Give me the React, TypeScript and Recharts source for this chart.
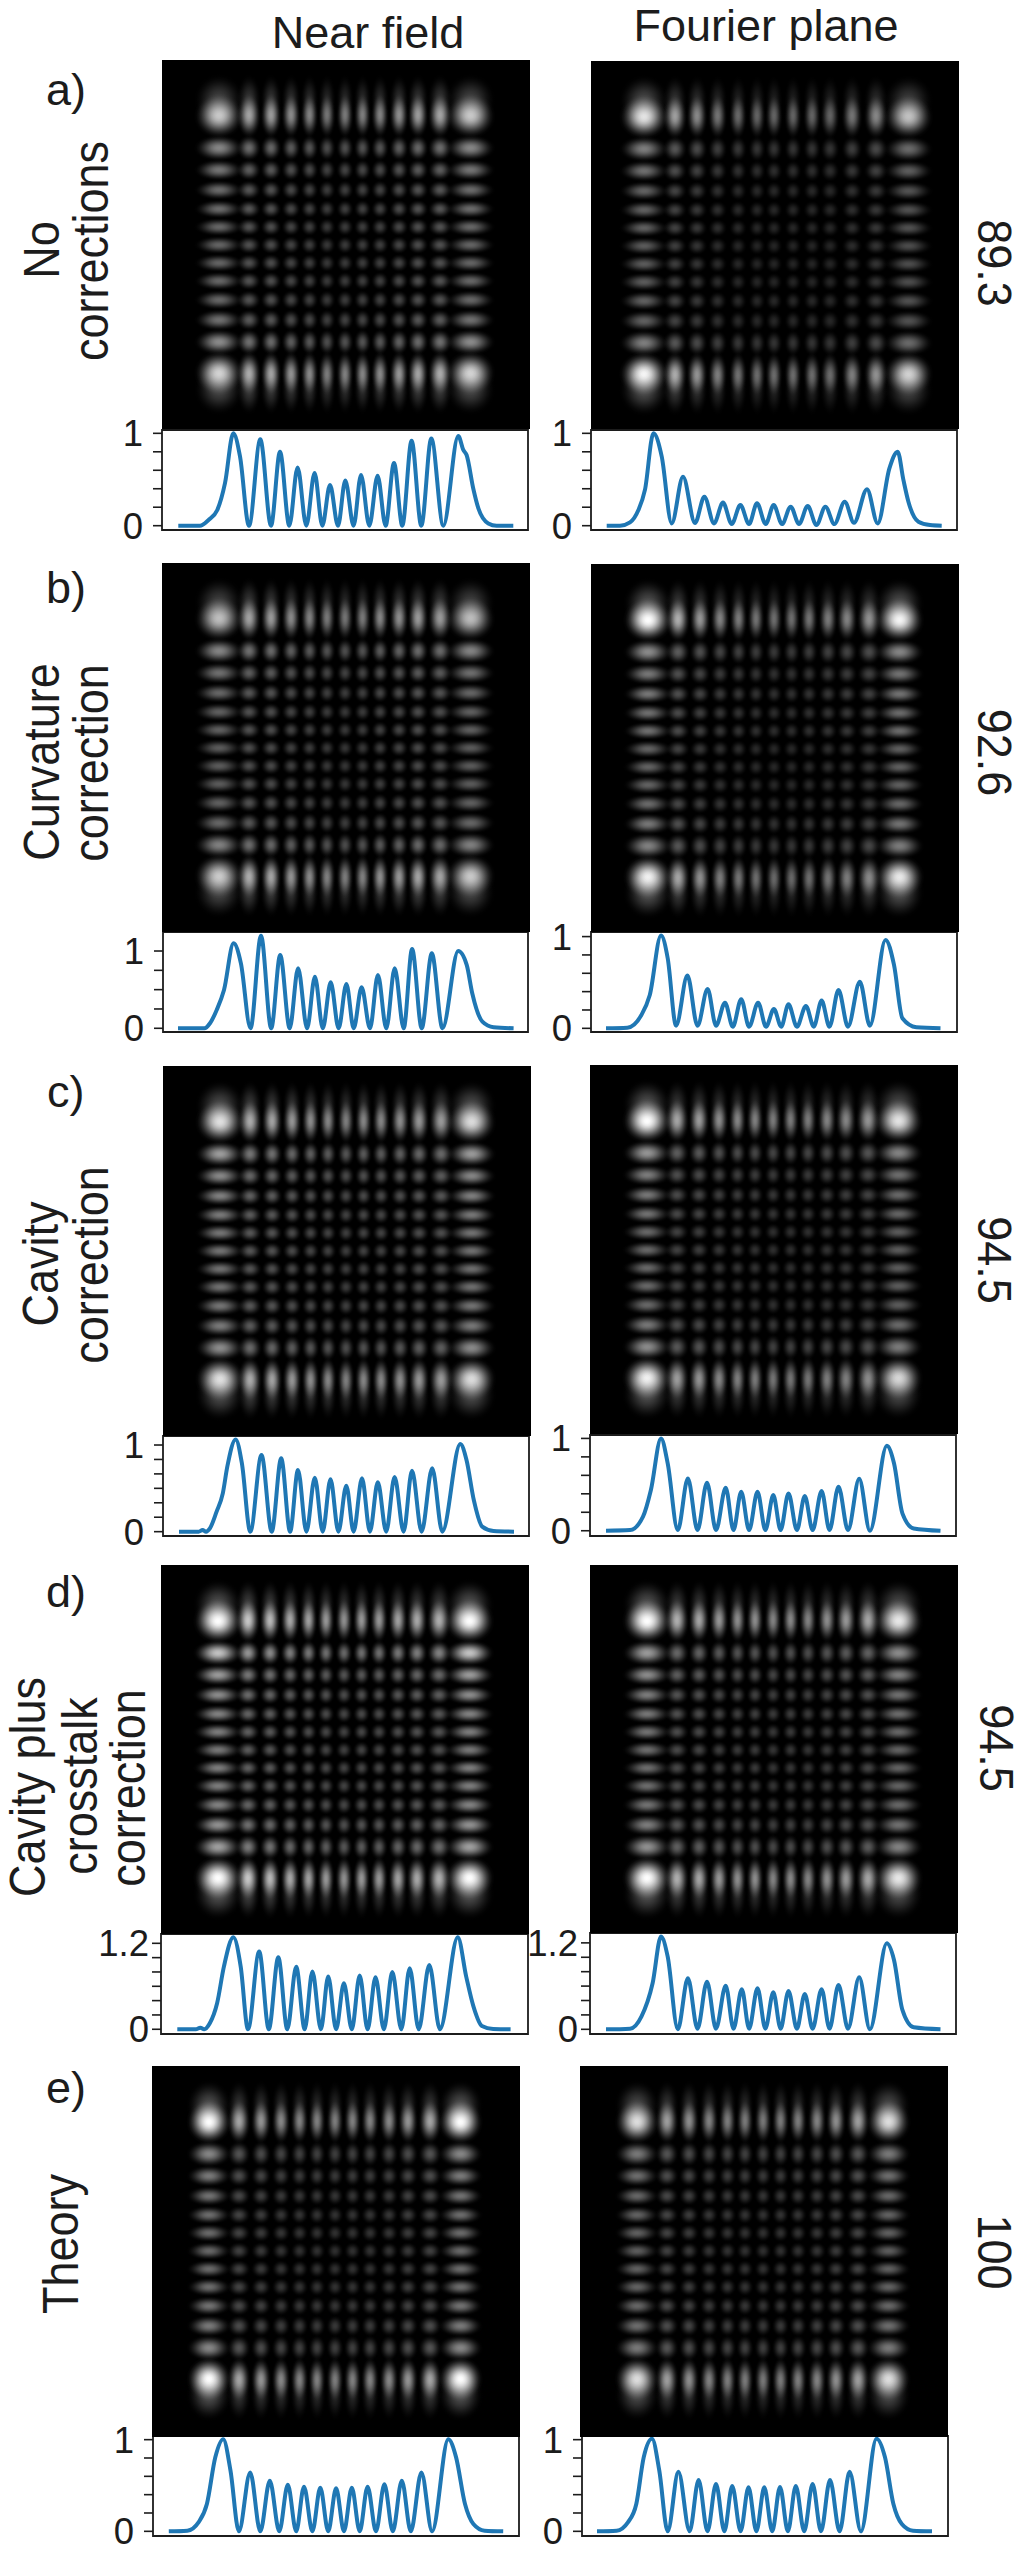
import React from "react";
import { LineChart, Line, XAxis, YAxis, ReferenceArea, ScatterChart, Scatter } from "recharts";

const FONT = "'Liberation Sans', Arial, sans-serif";
const BLUE = "#1f77b4";
const INK = "#1c1c1c";

// Cross-section curves: [sample position, normalised intensity]
const curveANear = [[0,0],[21.7,0],[30,.06],[39,.17],[46.7,.46],[55,1],[61.7,.75],[70.7,0],[82,.935],[92.7,0],[101.7,.8],[111,0],[119.3,.63],[128,0],[136.3,.57],[144,0],[151.7,.44],[159.7,0],[167,.49],[175.3,0],[182.7,.55],[191,0],[199.3,.54],[207.3,0],[215.7,.68],[224,0],[233.3,.92],[243,0],[253,.945],[265,0],[280,.97],[285,.82],[288.3,.765],[295,.4],[300,.19],[310,.025],[318.3,0],[335,0]];
const curveAFourier = [[0,0],[13.3,0],[23.3,.036],[31.7,.17],[38.3,.39],[46.7,1],[55,.75],[65,.025],[76.3,.53],[88.3,.03],[97.7,.314],[107.3,.025],[116.3,.25],[125,.018],[133.7,.224],[142.3,.018],[150.3,.242],[159,.018],[167,.224],[175.3,.018],[184,.206],[192.3,.018],[201,.213],[209.7,.007],[218.7,.206],[227.7,.018],[238,.26],[247.3,.032],[260.3,.394],[271,.025],[282.7,.62],[291,.8],[296.7,.496],[301.7,.26],[311.7,.043],[323.3,.007],[335,0]];
const curveBNear = [[0,0],[26.4,0],[32,.065],[38.7,.237],[46,.496],[55.6,1.1],[62.9,.84],[72.5,0],[83,1.198],[93.2,0],[102.2,.948],[111.7,0],[120.1,.776],[129.1,0],[136.9,.668],[144.8,0],[152.7,.595],[160.6,0],[168.4,.573],[175.7,0],[183.6,.53],[192,0],[199.9,.69],[208.3,0],[216.7,.776],[225.7,0],[234.1,1.026],[243.7,0],[253.8,.97],[264.5,0],[280.2,1],[288.7,.82],[294.3,.45],[304.4,.086],[315.6,.013],[335.6,0]];
const curveBFourier = [[0,0],[21.3,.007],[35.4,.145],[43.8,.364],[55,1.011],[61.7,.764],[70.1,.029],[81.4,.575],[91.5,.029],[101.6,.429],[110,.029],[119,.28],[126.8,.018],[135.2,.316],[143.1,.018],[152.1,.28],[160,.018],[167.9,.211],[175.2,.018],[182.5,.262],[190.9,.018],[199.9,.244],[207.8,.018],[215.6,.302],[223.5,.018],[232.5,.418],[242,.018],[253.8,.509],[263.9,.029],[279.5,.964],[288,.691],[296.4,.109],[310.4,.011],[334.5,0]];
const curveCNear = [[0,0],[19.6,0],[23.6,.019],[27,0],[30.9,.038],[37.6,.231],[43.8,.442],[48.3,.75],[56.7,1.065],[62.9,.788],[71.3,0],[82.5,.885],[92.7,0],[102.2,.846],[111.1,0],[119,.712],[127.4,0],[135.8,.623],[143.7,0],[151.5,.604],[159.4,0],[167.3,.531],[174.6,0],[183,.615],[190.9,0],[198.8,.569],[207.2,0],[215.6,.631],[224.6,0],[233,.704],[242.6,0],[253.2,.731],[263.3,0],[281.3,1.012],[287.5,.827],[294.8,.365],[303.2,.058],[314.5,.008],[335,0]];
const curveCFourier = [[0,0],[24.1,.007],[37,.152],[44.9,.441],[55,1],[61.7,.73],[71.8,.007],[81.9,.567],[91.5,.007],[101,.52],[110,.007],[119.7,.465],[127.5,.007],[135.2,.422],[143.1,.007],[151.5,.422],[159.4,.007],[167.3,.386],[174.6,.007],[182.5,.404],[190.9,.007],[198.8,.376],[206.6,.007],[215.6,.43],[223.5,.007],[232.5,.477],[242,.007],[253.2,.563],[263.9,0],[280.8,.92],[288,.73],[296.4,.188],[307.7,.025],[334.5,0]];
const curveDNear = [[0,0],[18.5,0],[23,.023],[26.9,0],[32.5,.084],[39.8,.363],[46.6,.874],[56.1,1.284],[63.4,.874],[70.7,0],[81.9,1.084],[91.5,0],[101,1.005],[110,0],[118.9,.874],[127.4,0],[135.1,.805],[143.6,0],[150.9,.735],[158.8,0],[166.6,.642],[174.5,0],[182.4,.749],[190.3,0],[198.2,.726],[206.6,0],[215,.8],[224,0],[232.4,.851],[241.4,0],[252,.898],[262.6,0],[280.5,1.284],[288.9,.735],[296.2,.316],[304.6,.047],[315.9,.005],[333.3,0]];
const curveDFourier = [[0,0],[24.1,.009],[35.4,.176],[46.6,.639],[55,1.287],[61.7,1.009],[71.8,0],[81.9,.708],[91.5,.009],[101,.662],[110,.009],[119.7,.606],[127.5,.009],[135.8,.556],[143.1,.009],[151.5,.569],[159.4,.009],[167.3,.514],[174.6,.009],[182.5,.532],[190.9,.009],[198.8,.491],[206.6,.009],[215.6,.556],[223.5,.009],[232.5,.616],[242,.009],[253.2,.722],[263.9,0],[280.8,1.194],[288,.963],[296.4,.269],[307.7,.028],[334.5,0]];
const curveENear = [[0,0],[18.5,.007],[29.7,.098],[38.1,.298],[46.5,.807],[54.4,1.004],[61.7,.662],[70.1,0],[81.4,.643],[91.5,0],[101,.553],[110.5,0],[119,.509],[127.4,0],[135.2,.487],[143.6,0],[151.5,.476],[159.4,0],[167.3,.469],[175.2,0],[183,.476],[190.9,0],[198.8,.487],[207.2,0],[215.6,.513],[224,0],[233,.553],[242,0],[252.6,.643],[263.3,0],[279.5,1.004],[287.3,.807],[296.2,.298],[304.6,.08],[315.8,.007],[334.4,0]];
const curveEFourier = [[0,0],[19.6,.007],[30.9,.098],[39.3,.298],[46.7,.807],[55,1.011],[62.3,.662],[70.7,0],[81.4,.651],[92.6,0],[101.6,.56],[110.5,0],[119,.516],[127.4,0],[135.2,.495],[143.6,0],[151.5,.48],[159.4,0],[167.3,.48],[175.2,0],[183,.484],[190.9,0],[198.8,.495],[207.2,0],[215.6,.516],[224,0],[233,.56],[242.6,0],[252.6,.651],[263.9,0],[279.5,1.011],[288,.807],[296.4,.298],[304.8,.08],[316,.007],[335,0]];

// Tick values of the small axes
const ticksFifths = [0, .2, .4, .6, .8, 1];
const ticksQuarters = [0, .25, .5, .75, 1];
const ticksSixths = [0, 1 / 6, 2 / 6, 3 / 6, 4 / 6, 5 / 6, 1];
const ticksTo12 = [0, .2, .4, .6, .8, 1, 1.2];

// Spot positions in the camera frames
const colsShared = [57, 87, 109, 129, 147.5, 165, 183, 200.5, 218, 237, 256, 278, 308.5];
const colsFourierA = [53, 84, 106, 126.6, 147, 166, 183, 202, 221, 239, 261, 285, 317.5];
const rowsShared = [40, 56, 88, 110, 130, 149, 167, 185, 203, 221, 240, 260, 282, 313, 329];
const colWidths = [10.5, 5.2, 4.5, 4.1, 3.8, 3.7, 3.7, 3.7, 3.8, 4.1, 4.5, 5.2, 10.5];
const colWidthsTheory = [9.5, 5, 4.3, 4, 3.8, 3.7, 3.7, 3.7, 3.8, 4, 4.3, 5, 9.5];
const rowWidths = [11, 9.5, 5.6, 4.6, 4.2, 4, 3.9, 3.9, 3.9, 4, 4.2, 4.6, 5.6, 9.5, 11];

// Spot brightness along columns and rows
const colsANear = [.9, .72, .68, .6, .56, .5, .52, .54, .56, .62, .68, .72, .9];
const rowsANear = [.28, .85, .58, .5, .46, .46, .44, .43, .43, .44, .44, .48, .6, .9, .3];
const colsAFourier = [.98, .66, .56, .47, .42, .4, .4, .4, .4, .4, .47, .55, .82];
const rowsAFourier = [.28, .9, .5, .44, .39, .38, .38, .36, .36, .36, .38, .38, .5, .98, .3];
const colsBNear = [.86, .72, .68, .6, .56, .52, .5, .52, .58, .62, .68, .68, .85];
const rowsBNear = [.28, .84, .6, .5, .46, .43, .43, .41, .41, .41, .43, .46, .58, .9, .3];
const colsBFourier = [1, .66, .56, .48, .45, .42, .4, .4, .42, .45, .48, .54, .96];
const rowsBFourier = [.3, 1, .54, .46, .46, .43, .43, .38, .38, .38, .41, .46, .5, .94, .3];
const colsCNear = [.94, .7, .66, .6, .56, .53, .5, .53, .53, .56, .6, .62, .92];
const rowsCNear = [.3, .92, .65, .56, .53, .5, .48, .47, .46, .46, .48, .5, .58, .92, .3];
const colsCFourier = [1, .62, .58, .52, .49, .47, .45, .45, .45, .48, .49, .55, .88];
const rowsCFourier = [.3, 1, .58, .48, .46, .44, .4, .4, .4, .4, .4, .46, .54, .94, .3];
const colsDNear = [1, .76, .7, .63, .6, .56, .53, .56, .56, .6, .63, .66, 1];
const rowsDNear = [.3, 1, .76, .6, .54, .5, .48, .46, .48, .48, .5, .56, .62, 1, .3];
const colsDFourier = [1, .66, .62, .56, .52, .52, .48, .5, .48, .52, .56, .62, .9];
const rowsDFourier = [.3, 1, .6, .54, .48, .46, .44, .42, .42, .42, .44, .48, .56, 1, .3];
const colsENear = [1, .62, .55, .5, .48, .47, .46, .47, .48, .5, .55, .62, 1];
const rowsENear = [.3, 1, .52, .47, .44, .42, .41, .4, .41, .42, .44, .47, .52, 1, .3];
const colsEFourier = [.9, .62, .55, .5, .48, .47, .46, .47, .48, .5, .55, .62, .9];
const rowsEFourier = [.3, .95, .52, .47, .44, .42, .41, .4, .41, .42, .44, .47, .52, .95, .3];

const EXTENT = 2.4;
const gaussStops = [0, .1, .2, .3, .4, .5, .6, .7, .8, .9, 1];

type Panel = {
  key: string;
  img: [number, number, number, number];
  rect: [number, number, number, number];
  curve: number[][];
  x0: number;
  yDomain: [number, number];
  ticks: number[];
  cols: number[];
  rows: number[];
  colPos?: number[];
  colW?: number[];
  margin?: number;
};

const panels: Panel[] = [
  { key: "aN", img: [162, 60, 368, 369], rect: [162, 430, 366, 100], curve: curveANear, x0: -16.3, yDomain: [-.0466, 1.036], ticks: ticksFifths, cols: colsANear, rows: rowsANear },
  { key: "aF", img: [591, 61, 368, 368], rect: [591, 430, 366, 100], curve: curveAFourier, x0: -15.7, yDomain: [-.0466, 1.036], ticks: ticksFifths, cols: colsAFourier, rows: rowsAFourier, colPos: colsFourierA },
  { key: "bN", img: [162, 563, 368, 369], rect: [163, 932, 365, 100], curve: curveBNear, x0: -15, yDomain: [-.048, 1.246], ticks: ticksQuarters, cols: colsBNear, rows: rowsBNear },
  { key: "bF", img: [591, 564, 368, 368], rect: [591, 932, 366, 100], curve: curveBFourier, x0: -15, yDomain: [-.04, 1.05], ticks: ticksFifths, cols: colsBFourier, rows: rowsBFourier },
  { key: "cN", img: [162.7, 1066, 368, 370], rect: [163, 1436, 366, 100], curve: curveCNear, x0: -16, yDomain: [-.05, 1.104], ticks: ticksSixths, cols: colsCNear, rows: rowsCNear },
  { key: "cF", img: [589.5, 1065, 368, 369], rect: [590, 1435, 366, 101], curve: curveCFourier, x0: -16, yDomain: [-.057, 1.037], ticks: ticksFifths, cols: colsCFourier, rows: rowsCFourier },
  { key: "dN", img: [160.8, 1565, 368, 369], rect: [160.6, 1934, 367, 100], curve: curveDNear, x0: -16.3, yDomain: [-.066, 1.33], ticks: ticksTo12, cols: colsDNear, rows: rowsDNear, margin: 3 },
  { key: "dF", img: [590, 1565, 368, 368], rect: [590, 1933, 366, 101], curve: curveDFourier, x0: -16, yDomain: [-.065, 1.337], ticks: ticksTo12, cols: colsDFourier, rows: rowsDFourier, margin: 3 },
  { key: "eN", img: [152.3, 2066, 368, 371], rect: [152.7, 2436, 366, 100], curve: curveENear, x0: -15.8, yDomain: [-.051, 1.04], ticks: ticksFifths, cols: colsENear, rows: rowsENear, colW: colWidthsTheory },
  { key: "eF", img: [580.4, 2066, 368, 371], rect: [581.5, 2436, 366, 100], curve: curveEFourier, x0: -15, yDomain: [-.051, 1.04], ticks: ticksFifths, cols: colsEFourier, rows: rowsEFourier, colW: colWidthsTheory },
];

const upright = [
  { t: "Near field", x: 368, y: 48, a: "middle" },
  { t: "Fourier plane", x: 766, y: 41, a: "middle" },
  { t: "a)", x: 46, y: 105, a: "start" },
  { t: "b)", x: 46, y: 603, a: "start" },
  { t: "c)", x: 47, y: 1107, a: "start" },
  { t: "d)", x: 46, y: 1607, a: "start" },
  { t: "e)", x: 46, y: 2103, a: "start" },
];
const sideLabels = [
  { t: "No", x: 58.8, y: 250 },
  { t: "corrections", x: 107.8, y: 251 },
  { t: "Curvature", x: 58.8, y: 762 },
  { t: "correction", x: 107.8, y: 763 },
  { t: "Cavity", x: 57.5, y: 1264 },
  { t: "correction", x: 107.8, y: 1265 },
  { t: "Cavity plus", x: 44.5, y: 1787 },
  { t: "crosstalk", x: 96.7, y: 1786 },
  { t: "correction", x: 145, y: 1788 },
  { t: "Theory", x: 78.4, y: 2244 },
];
const fidelity = [
  { t: "89.3", x: 978, y: 263 },
  { t: "92.6", x: 978, y: 752.5 },
  { t: "94.5", x: 978, y: 1260 },
  { t: "94.5", x: 979.5, y: 1748 },
  { t: "100", x: 978, y: 2252 },
];

const PAD_L = 70, PAD_V = 24, PAD_R = 6;

function CutPlot({ p }: { p: Panel }) {
  const [x, y, w, h] = p.rect;
  const data = p.curve.map(([s, v]) => ({ s, v }));
  const top = p.ticks[p.ticks.length - 1];
  return (
    <div style={{ position: "absolute", left: x - PAD_L, top: y - PAD_V }}>
      <LineChart width={w + PAD_L + PAD_R} height={h + PAD_V * 2} data={data}
        margin={{ left: 0, right: PAD_R, top: PAD_V, bottom: PAD_V }}>
        <XAxis dataKey="s" type="number" domain={[p.x0, p.x0 + w]} hide allowDataOverflow />
        <YAxis type="number" domain={p.yDomain} ticks={p.ticks} allowDataOverflow interval={0} width={PAD_L}
          axisLine={false} tickSize={9} tickMargin={p.margin ?? 10}
          tickLine={{ stroke: INK, strokeWidth: 1.6 }}
          tick={{ fontFamily: FONT, fontSize: 36.5, fill: INK }}
          tickFormatter={(v: number) => (v === 0 || v === top ? String(v) : "")} />
        <ReferenceArea x1={p.x0} x2={p.x0 + w} y1={p.yDomain[0]} y2={p.yDomain[1]} fill="none" stroke={INK} strokeWidth={1.8} />
        <Line dataKey="v" type="monotone" stroke={BLUE} strokeWidth={4} dot={false} isAnimationActive={false} />
      </LineChart>
    </div>
  );
}

function Spot(props: any) {
  const { cx, cy, payload } = props;
  return (
    <ellipse cx={cx} cy={cy} rx={payload.sx * EXTENT} ry={payload.sy * EXTENT}
      fill={`url(#spot-${payload.k})`} opacity={payload.a} />
  );
}

function Frame({ p }: { p: Panel }) {
  const [x, y, w, h] = p.img;
  const colPos = p.colPos ?? colsShared;
  const colW = p.colW ?? colWidths;
  const spots = rowsShared.flatMap((ry, r) =>
    colPos.map((cx, c) => ({ cx0: cx, ry0: ry, sx: colW[c], sy: rowWidths[r], a: Math.min(1, p.cols[c] * p.rows[r]), k: p.key }))
  );
  return (
    <div style={{ position: "absolute", left: x, top: y, width: w, height: h, background: "#000" }}>
      <ScatterChart width={w} height={h} margin={{ left: 0, right: 0, top: 0, bottom: 0 }}>
        <defs>
          <radialGradient id={`spot-${p.key}`}>
            {gaussStops.map((t) => (
              <stop key={t} offset={t} stopColor="#fff" stopOpacity={Math.cos((Math.PI * t) / 2) ** 2} />
            ))}
          </radialGradient>
        </defs>
        <XAxis dataKey="cx0" type="number" domain={[0, w]} hide />
        <YAxis dataKey="ry0" type="number" domain={[0, h]} reversed hide />
        <Scatter data={spots} shape={Spot} isAnimationActive={false} />
      </ScatterChart>
    </div>
  );
}

export default function App() {
  return (
    <div style={{ position: "absolute", left: 0, top: 0, width: 1025, height: 2554, background: "#fff", overflow: "hidden" }}>
      {panels.map((p) => <CutPlot key={p.key} p={p} />)}
      {panels.map((p) => <Frame key={p.key} p={p} />)}
      <svg width={1025} height={2554} style={{ position: "absolute", left: 0, top: 0, pointerEvents: "none" }}
        fontFamily={FONT} fontSize={45} fill={INK}>
        {upright.map((d) => <text key={d.t} x={d.x} y={d.y} textAnchor={d.a as any}>{d.t}</text>)}
        {sideLabels.map((d) => <text key={d.t + d.y} textAnchor="middle" transform={`translate(${d.x} ${d.y}) rotate(-90) scale(1 1.1)`}>{d.t}</text>)}
        {fidelity.map((d) => <text key={d.y} textAnchor="middle" transform={`translate(${d.x} ${d.y}) rotate(90) scale(1 1.08)`}>{d.t}</text>)}
      </svg>
    </div>
  );
}
